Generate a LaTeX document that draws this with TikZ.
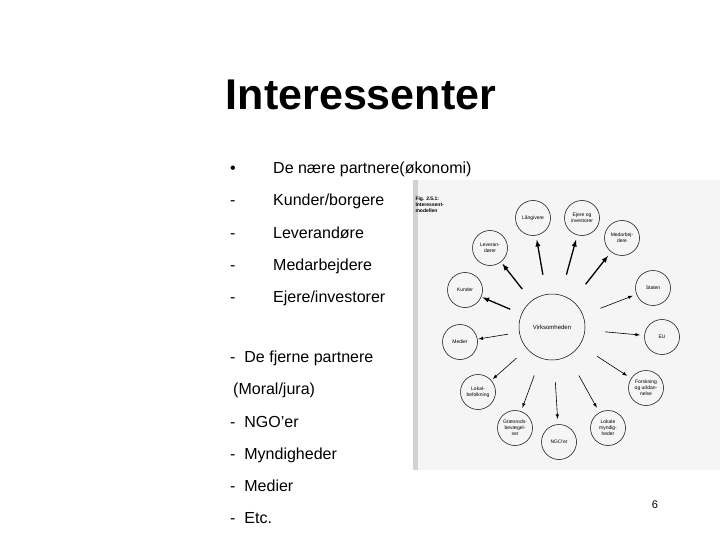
\documentclass[tikz,border=0pt]{standalone}
\usepackage{fontspec}
\setmainfont{Liberation Sans}
\usetikzlibrary{calc}
\begin{document}
\begin{tikzpicture}[x=1pt,y=-1pt,
  big/.style={font=\fontsize{16}{19}\selectfont,anchor=base west,inner sep=0},
  sat/.style={draw,circle,minimum size=35,inner sep=0,align=center,font=\fontsize{5}{6}\selectfont,line width=0.5pt},
  arr/.style={-latex,line width=0.6pt},
  arrb/.style={-latex,line width=1.3pt}]
\useasboundingbox (0,0) rectangle (720,540);
\fill[gray!8] (413,180) rectangle (720,470);
\fill[gray!35] (413,180) rectangle (418,470);
\node[font=\bfseries\fontsize{43}{50}\selectfont] (title) at (361,95) {Interessenter};
\node[big] (b0) at (230,174) {•};
\node[big] (t0) at (273,174) {De nære partnere(økonomi)};
\node[big] (b1) at (230,206) {-}; \node[big] (t1) at (273,206) {Kunder/borgere};
\node[big] (b2) at (230,238) {-}; \node[big] (t2) at (273,238) {Leverandøre};
\node[big] (b3) at (230,270) {-}; \node[big] (t3) at (273,270) {Medarbejdere};
\node[big] (b4) at (230,302) {-}; \node[big] (t4) at (273,302) {Ejere/investorer};
\node[big] (c0) at (230,362) {-\ \ De fjerne partnere};
\node[big] (c1) at (233,394) {(Moral/jura)};
\node[big] (c2) at (230,427) {-\ \ NGO’er};
\node[big] (c3) at (230,459) {-\ \ Myndigheder};
\node[big] (c4) at (230,491) {-\ \ Medier};
\node[big] (c5) at (230,523) {-\ \ Etc.};
\node[font=\fontsize{11}{13}\selectfont] (pg) at (655,505) {6};
\node[font=\bfseries\fontsize{5}{6}\selectfont,align=left,anchor=north west] (fig) at (412,193) {Fig. 2.5.1:\\Interessent-\\modellen};
\node[draw,circle,minimum size=66,inner sep=0,font=\fontsize{6}{7}\selectfont,line width=0.5pt] (v) at (552,327) {Virksomheden};
\node[sat] (s1) at (533,218) {Långivere};
\node[sat] (s2) at (582,218) {Ejere og\\investorer};
\node[sat] (s3) at (622,238) {Medarbej-\\dere};
\node[sat] (s4) at (653,288) {Staten};
\node[sat] (s5) at (662,337) {EU};
\node[sat] (s6) at (646,388) {Forskning\\og uddan-\\nelse};
\node[sat] (s7) at (608,428) {Lokale\\myndig-\\heder};
\node[sat] (s8) at (559,442) {NGO’er};
\node[sat] (s9) at (515,428) {Græsrods-\\bevægel-\\ser};
\node[sat] (s10) at (478,392) {Lokal-\\befolkning};
\node[sat] (s11) at (460,342) {Medier};
\node[sat] (s12) at (465,290) {Kunder};
\node[sat] (s13) at (490,248) {Leveran-\\dører};
\foreach \i in {1,2,3,12,13}{
  \draw[arrb] ($(v)!0.48!(s\i)$) -- ($(v)!0.8!(s\i)$);}
\foreach \i in {4,5,6,7,8,9,10,11}{
  \draw[arr] ($(v)!0.48!(s\i)$) -- ($(v)!0.8!(s\i)$);}
\end{tikzpicture}
\end{document}
